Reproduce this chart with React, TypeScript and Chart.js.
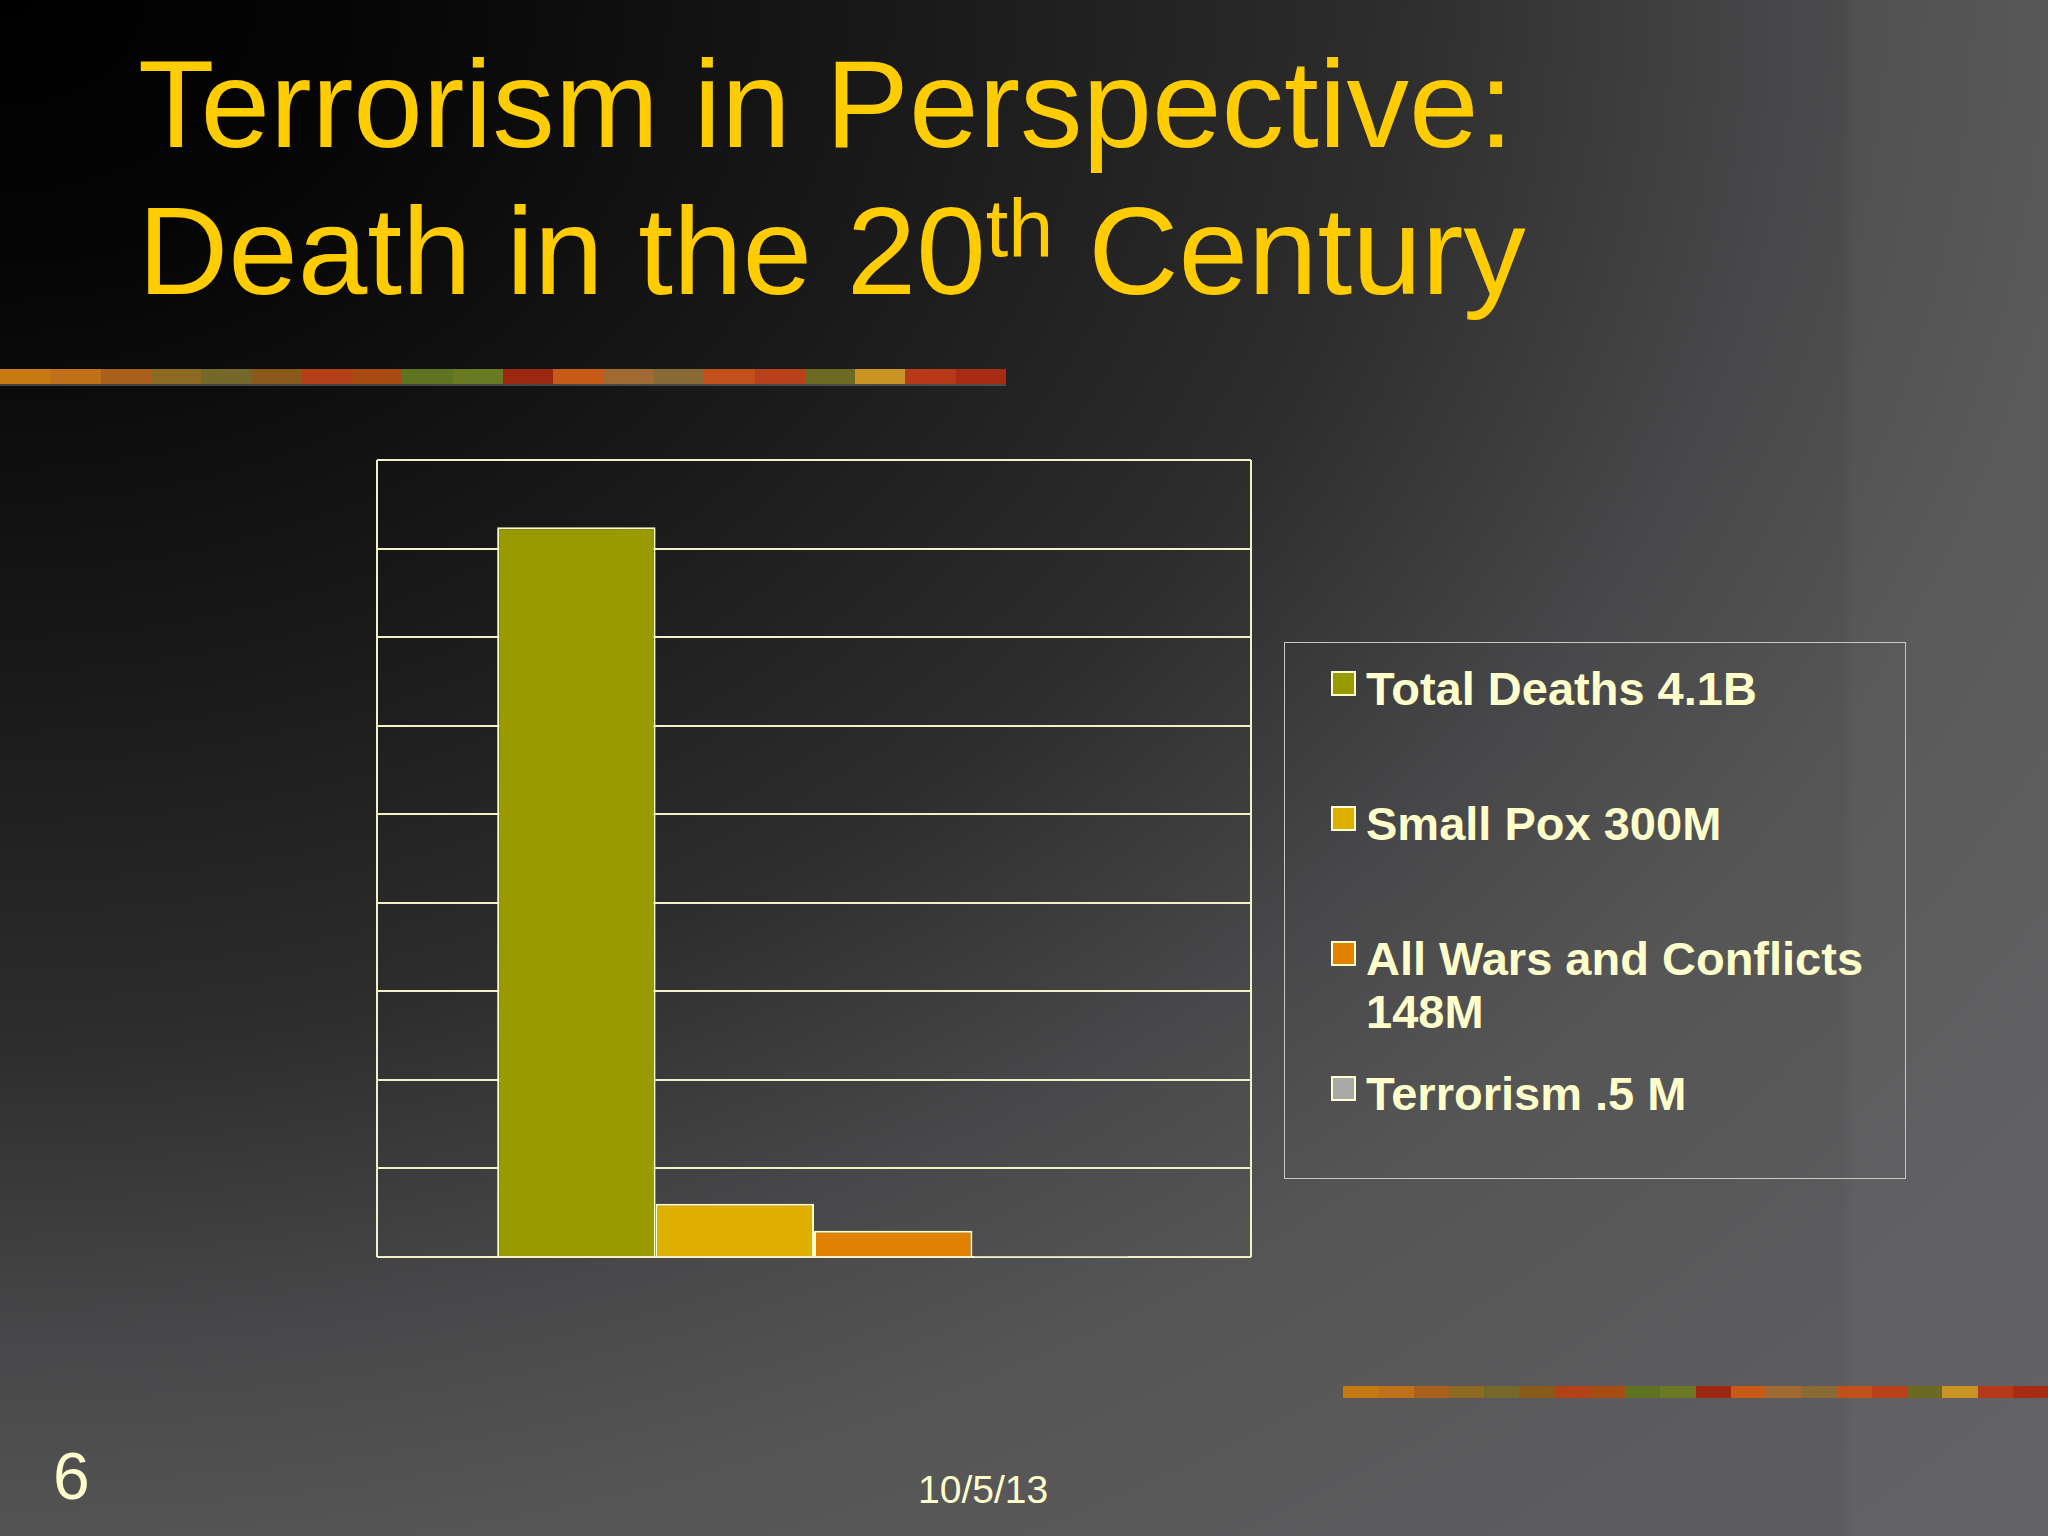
import React, { useEffect, useRef } from "react";
import { Chart, registerables } from "chart.js";

Chart.register(...registerables);

const titleLine1 = "Terrorism in Perspective:";
const titleLine2Before = "Death in the 20";
const titleLine2Sup = "th";
const titleLine2After = " Century";
const slideNumber = "6";
const slideDate = "10/5/13";

const categories = [""];
const seriesLabels = [
  "Total Deaths 4.1B",
  "Small Pox 300M",
  "All Wars and Conflicts 148M",
  "Terrorism .5 M",
];
// values in billions of deaths
const seriesValues = [4.12, 0.3, 0.148, 0.0005];
const seriesColors = ["#999900", "#DFAF00", "#E08200", "#A8A8A8"];
const yMin = 0;
const yMax = 4.5;
const yStep = 0.5;

const stripeColors = [
  "#c87a12", "#c07018", "#a8601a", "#8c6a22", "#74682a", "#8a5a1c",
  "#b4401a", "#a84a14", "#5e7420", "#6a7a22", "#9c2812", "#c85a18",
  "#a06a32", "#8a6a34", "#c2501a", "#b8401a", "#6c6a22", "#c89424",
  "#b8381a", "#a82c14",
];

const FONT = '"Liberation Sans", Arial, Helvetica, sans-serif';
const CREAM = "#FFFFCC";
const GRID = "#F2F2C6";

function stripeGradient(): string {
  const n = stripeColors.length;
  const parts: string[] = [];
  stripeColors.forEach((c, i) => {
    parts.push(`${c} ${((i / n) * 100).toFixed(2)}%`);
    parts.push(`${c} ${(((i + 1) / n) * 100).toFixed(2)}%`);
  });
  return `linear-gradient(to right, ${parts.join(", ")})`;
}

export default function App() {
  const canvasRef = useRef<HTMLCanvasElement | null>(null);

  useEffect(() => {
    document.body.style.margin = "0";
    const canvas = canvasRef.current;
    if (!canvas) return;
    const chart = new Chart(canvas, {
      type: "bar",
      data: {
        labels: categories,
        datasets: seriesLabels.map((label, i) => ({
          label,
          data: [seriesValues[i]],
          backgroundColor: seriesColors[i],
          borderColor: CREAM,
          borderWidth: 2,
          categoryPercentage: 0.725,
          barPercentage: 1.0,
        })),
      },
      options: {
        animation: false,
        responsive: false,
        devicePixelRatio: 1,
        layout: { padding: 10 },
        plugins: {
          legend: { display: false },
          tooltip: { enabled: false },
          title: { display: false },
        },
        scales: {
          x: {
            type: "category",
            offset: true,
            grid: {
              display: true,
              offset: true,
              color: GRID,
              lineWidth: 2,
              drawTicks: false,
            },
            ticks: { display: false },
            border: { display: false },
          },
          y: {
            min: yMin,
            max: yMax,
            ticks: { display: false, stepSize: yStep },
            grid: { color: GRID, lineWidth: 2, drawTicks: false },
            border: { display: false },
          },
        },
      },
    });
    return () => chart.destroy();
  }, []);

  const legendTop = 662;
  const legendGap = 135;

  return (
    <div
      style={{
        position: "relative",
        width: 2048,
        height: 1536,
        overflow: "hidden",
        fontFamily: FONT,
        background:
          "linear-gradient(to right, rgba(255,255,255,0) 0%, rgba(255,255,255,0) 90%, rgba(255,255,255,0.03) 90.5%, rgba(255,255,255,0.03) 100%), radial-gradient(ellipse farthest-corner at 0% 0%, #000000 0%, #050505 12%, #1a1a1a 32%, #2d2d2e 48%, #48484a 62%, #555556 72%, #5b5b5d 85%, #5e5e60 100%)",
      }}
    >
      {/* Title */}
      <div
        style={{
          position: "absolute",
          left: 138,
          top: 41,
          fontSize: 125,
          lineHeight: "125px",
          color: "#FFCC00",
          whiteSpace: "nowrap",
        }}
      >
        {titleLine1}
      </div>
      <div
        style={{
          position: "absolute",
          left: 138,
          top: 188,
          fontSize: 125,
          lineHeight: "125px",
          color: "#FFCC00",
          whiteSpace: "nowrap",
        }}
      >
        {titleLine2Before}
        <span style={{ fontSize: 81, position: "relative", top: -38 }}>
          {titleLine2Sup}
        </span>
        {titleLine2After}
      </div>

      {/* decorative stripes */}
      <div
        style={{
          position: "absolute",
          left: 0,
          top: 369,
          width: 1006,
          height: 15,
          background: stripeGradient(),
          boxShadow: "0 2px 0 rgba(120,120,120,0.5)",
        }}
      />
      <div
        style={{
          position: "absolute",
          left: 1343,
          top: 1386,
          width: 705,
          height: 12,
          background: stripeGradient(),
        }}
      />

      {/* Chart */}
      <canvas
        ref={canvasRef}
        width={894}
        height={817}
        style={{ position: "absolute", left: 367, top: 450, width: 894, height: 817 }}
      />

      {/* Legend */}
      <div
        style={{
          position: "absolute",
          left: 1284,
          top: 642,
          width: 620,
          height: 535,
          border: "1.5px solid #C8C8BE",
        }}
      />
      {seriesLabels.map((label, i) => (
        <div
          key={label}
          style={{
            position: "absolute",
            left: 1331,
            top: legendTop + i * legendGap,
            width: 565,
          }}
        >
          <div
            style={{
              position: "absolute",
              left: 0,
              top: 9,
              width: 21,
              height: 21,
              background: seriesColors[i],
              border: `2px solid ${CREAM}`,
            }}
          />
          <div
            style={{
              position: "absolute",
              left: 35,
              top: 0,
              width: 530,
              fontSize: 47,
              fontWeight: "bold",
              lineHeight: "53px",
              color: CREAM,
            }}
          >
            {label}
          </div>
        </div>
      ))}

      {/* Footer */}
      <div
        style={{
          position: "absolute",
          left: 53,
          top: 1443,
          fontSize: 66,
          lineHeight: "66px",
          color: CREAM,
        }}
      >
        {slideNumber}
      </div>
      <div
        style={{
          position: "absolute",
          left: 918,
          top: 1470,
          fontSize: 39,
          lineHeight: "39px",
          color: CREAM,
        }}
      >
        {slideDate}
      </div>
    </div>
  );
}
